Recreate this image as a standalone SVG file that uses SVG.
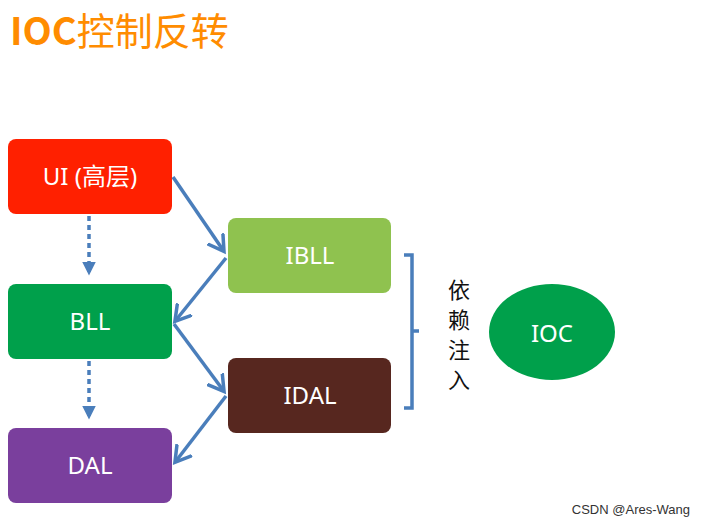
<svg xmlns="http://www.w3.org/2000/svg" width="706" height="526" viewBox="0 0 706 526">
<style>
.t{font-family:"Noto Sans","Noto Sans CJK SC",sans-serif;fill:#fff;font-size:24px;text-anchor:middle}
.c{stroke:#4a7ebb;stroke-width:3.5;fill:none}
</style>
<defs>
<marker id="a" markerWidth="6" markerHeight="6" refX="4" refY="3" orient="auto" markerUnits="strokeWidth"><path d="M0,0.3 L4.5,3 L0,5.7" fill="none" stroke="#4a7ebb" stroke-width="1"/></marker>
<marker id="d" markerWidth="4" markerHeight="4" refX="3" refY="2" orient="auto" markerUnits="strokeWidth"><path d="M0,0 L4,2 L0,4Z" fill="#4a7ebb"/></marker>
</defs>
<rect width="706" height="526" fill="#fff"/>
<text x="10" y="45" font-family="Noto Sans CJK SC,sans-serif" font-size="38" font-weight="bold" fill="#ff8c00">IOC<tspan font-weight="normal">控制反转</tspan></text>
<g id="ui"><rect x="8" y="139" width="164" height="75" rx="8" fill="#ff2000"/><text class="t" x="90" y="185">UI (高层)</text></g>
<g id="bll"><rect x="8" y="284" width="164" height="75" rx="8" fill="#00a04b"/><text class="t" x="90" y="330">BLL</text></g>
<g id="dal"><rect x="8" y="428" width="164" height="75" rx="8" fill="#7a3f9d"/><text class="t" x="90" y="474">DAL</text></g>
<g id="ibll"><rect x="228" y="218" width="163" height="75" rx="8" fill="#8fc24f"/><text class="t" x="310" y="264">IBLL</text></g>
<g id="idal"><rect x="228" y="358" width="163" height="75" rx="8" fill="#57271f"/><text class="t" x="310" y="404">IDAL</text></g>
<g id="ioc"><ellipse cx="552" cy="332" rx="63" ry="48" fill="#00a04b"/><text class="t" x="552" y="342" font-size="30">IOC</text></g>
<g id="di"><path d="M404,255 H412 V408 H404 M412,331 H419" fill="none" stroke="#4a7ebb" stroke-width="3.5"/>
<g font-family="Noto Sans CJK SC,sans-serif" font-size="22" text-anchor="middle" fill="#111"><text x="459" y="298">依</text><text x="459" y="328">赖</text><text x="459" y="358">注</text><text x="459" y="388">入</text></g></g>
<g id="connectors">
<path class="c" d="M173,177 L223,250" marker-end="url(#a)"/>
<path class="c" d="M226,258 L176,320" marker-end="url(#a)"/>
<path class="c" d="M174,324 L223,390" marker-end="url(#a)"/>
<path class="c" d="M226,396 L176,461" marker-end="url(#a)"/>
<path class="c" d="M89,216 V272" stroke-dasharray="5,4" marker-end="url(#d)"/>
<path class="c" d="M89,361 V416" stroke-dasharray="5,4" marker-end="url(#d)"/>
</g>
<text x="690" y="514" font-family="Liberation Sans,sans-serif" font-size="13" fill="#333" text-anchor="end">CSDN @Ares-Wang</text>
</svg>
